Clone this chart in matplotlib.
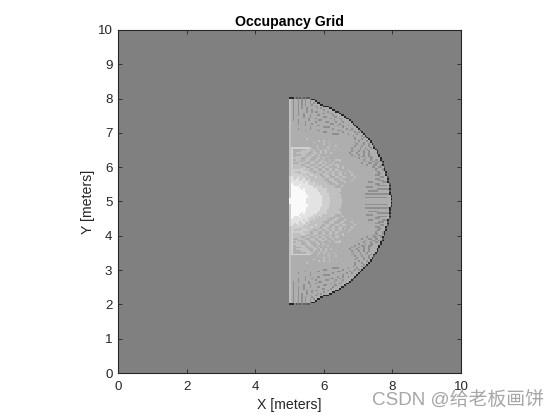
import numpy as np
import matplotlib
matplotlib.use("Agg")
import matplotlib.pyplot as plt

# grey level of each cell type in the occupancy map
levels = {'.': 0.5, '#': 0.15, 'g': 0.36, 'd': 0.56, 'a': 0.68,
          'b': 0.75, 'c': 0.81, 'e': 0.89, 'f': 0.98}

# upper half of the scanned area, top row (y=8) first, 20 cells per meter
edge_cols = [13, 15, 16, 18, 20, 23, 25, 27, 29, 30, 32, 33, 35, 36, 37, 38, 39, 40, 41, 42, 43,
             44, 45, 46, 47, 47, 48, 49, 49, 50, 51, 51, 52, 52, 53, 53, 54, 54, 54, 55, 55,
             55, 56, 56, 56, 57, 57, 57, 57, 58, 58, 58, 58, 58, 58, 58, 59, 59, 59, 59, 59]

rows = [
    "###.g.g.g.gg.g",
    "badaadadadaad",
    "badaadadadaadaa",
    "badaadadadaadad",
    "badaadadadaaadaaaad",
    "badaadadaaaadaadaaaa",
    "badaadadaadaaaaadada",
    "badaadaaaadaadaaaaaada",
    "badaadaaaadaadaddaaaaada",
    "badaadaadaaaaaaaaaaddaaada",
    "badaadaadaaadaaaddaaaaaaada",
    "badaaaaadaaadaaaaaaaddaaaadd",
    "badaaaaaaaadaaadaaaaaaaadaaaad",
    "badaadaaaaadaaaaaddaaaaaaadaaad",
    "baaaadaaadaaaaadaaaaaddaaaadaaad",
    "baaaadaaadaaadaaaaaaaaaaddaaadaaa",
    "baaaaaaaadaaaaaaddaaaaaaaaaadaadaad",
    "baaaaaaaaaaadaaaaaaaddddaaaaaaadaaaa",
    "baaaadaaaaaadaaaaaaaaaaaadaaaaaaadaad",
    "baaaaaaaadaaaaaaddaaaaaaaaaaddaaaaadad",
    "baaaaaaaaaaaaaaaaaaaddaaaaaaaaadaaaaaadad",
    "baaaaaaaaaaaaaaaaaaaaaaaaddddaaaaadaaaadaa",
    "baaaaaaaaaaaaaaaaaaaaaaaaaaaaaaaaaaaadaaaada",
    "baaaaaaaaaaaaaaaaaaaaaaaaaaaaaaaaaaaaadaaaada",
    "baaaaaaaaabaaaaaaaaaaaaaaaaaaaaaaaaaaadaaada",
    "baaaaaaaaaaaaaaaabaabaabaaaaaaaaaaaaaaaadaaaad",
    "baaaaaaaaaaaaabaaaaaaaaaaaaaaaaaaaaaaadaaaadaa",
    "baaaaaaaaaaaaaaaaaaabaabaaaaaaaaaaaaaaadaaadaadaa",
    "baaaaaaaaaaaaaaabaaaaaabaaabaaaaaaaaaadaaadaaada",
    "bcccccccccccbaaabaaaaabaaaaaaaaaaaaadaaaadaadaad",
    "bcaaaaaaaabbbbaaabaabaabaabaaaaaaaaaadaaadaaada",
    "bcaaaaabbbbbaabaaabaabaaaaaaaaaaaaaadaaadaadaad",
    "bcaabbbbbbbaaabbaabaabaabaaaaaaaaaadaaadaaadaad",
    "bcaaaaabbbaaabbaabaaaaaaaaaaaaaaaaaadaaadaadaad",
    "bcaabbbbbaabbbaabaabaabaaaaaaaaaaaaaaadaaaddaadd",
    "bcbbbbbaaabbbaaabbaabaaaaaaaaaaaaaaaaaaadaaadaaddaa",
    "bcaabbbaabbbaaabbaabaaabaaabbbaaaaaaaaaaaaadaaadaadd",
    "bcbbbaaabbbaabbaaabbbaabaabaabaaaaaaaaaaaaaadaaaddaadd",
    "bcaaabbbbaaabbbaabbaabaaabaaaaaaaaaaaaaaaadaaaddaadd",
    "bcbbbbbaabbbaaabbaabbaabbaabbaaaaaaaaaaaaaaaadaaaddaadd",
    "bcbbbbbbbbaabbbaabbaabbaaaaabaabaaaaaaaaaaaaaaaaddaaddaadd",
    "bcbbbbbccbbbaabbbaabbaabbaabaaabaaaaaaaaaaaaaaaaaaddaaddaad",
    "bcccccccbbbbaabbbaabbaabbaabbaaaaabaaaaaaaaaaaaaaadaaaddaadd",
    "bccbbbbccccbbbaabbbaabbaabbaabbaaaabaaaaaaaaaaaaaaaddaaaddaad",
    "bccccbbbcbbcbbbbbaabbbaabbaabbaabaaabaaaaaaaaaaaaaaaddaaadda",
    "bcccccccbcbbccbbbbaabbbaabbaabbaaaaabaaaaaaaaaaaaadddaaaadda",
    "cecccecccbcbbbbcbbbaabbbaaabbaabbaaaaabaaaaaaaaaaaaaaddaaadd",
    "ceeceeccecbcbbbbbbbbbaabbbaaabbaaaaaabaaaaaaaaaaaadddaaaadd",
    "ceeeeeceecccbbbbbbbbaaabbbaaaabbaaaabaaaaaaaaaaaaaaadddaaad",
    "ceeeeeeeceeccbcbbbbbbbaaabbbaaaabaaaaaaaaaaaaadddaaaaaddddd",
    "cfeeeeeeeeeccccbcbbbbbbaaaabbaaaaaaaaaaaaaaaaaaaaadddaaaaa",
    "cffeeefeeeeeeccccbcbbbbbbbaaaabbaaaaaaaaaaaaaaaaaaadddddd",
    "cfffffeeeeeeeecccccbbbbbbbbaaabaaaaaaaaaaaaaaddddaaaaaaaaa",
    "cffffffefeeeeeeeccccccbbbbbbbbaaaaaaaaaaaaaaaaaaaaadddddddd",
    "cffffffffeeeeeeeecccccbbbbbbbbaaaaaaaaaaaaaaaaddddddaaaaa",
    "cfffffffffeeeeeeeeccccbbbbbbbaaaaaaaaaaaaaaaaaaaaaaaaaaaaa",
    "cfffffffffeeeeeeeecccccbbbbbbbaaaaaaaaaaaaaadddddddddddddd",
    "cffffffffffeeeeeeeeccccbbbbbbbaaaaaaaaaaaaaaaaaaaaaaaaaaaa",
    "cffffffffffeeeeeeeecccccbbbbbbaaaaaaaaaaaaaaddddddddddddd",
    "ffffffffffeeeeeeeeecccccbbbbbbbaaaaaaaaaaaaaaaaaaaaaaaaaaa",
    "ffffffffffeeeeeeeeecccccbbbbbbbaaaaaaaaaaaaaaaaaaaaaaaaaaa",
]

grid = np.full((200, 200), 0.5)
n_half = len(rows) - 1
prev_edge = edge_cols[0]
for i, (row, edge) in enumerate(zip(rows, edge_cols)):
    # base grey up to the arc, then the occupied cells bridging to the row above
    dark = '#' * max(1, edge - prev_edge)
    if i == 0:
        row = row[:edge]
    else:
        row = row[:prev_edge].ljust(prev_edge, 'a') + dark
        if edge == prev_edge and i % 2 == 0:
            row = row[:-1] + 'g'
    prev_edge = edge
    vals = [levels[ch] for ch in row]
    dy = n_half - i
    grid[100 + dy, 100:100 + len(vals)] = vals
    grid[100 - dy, 100:100 + len(vals)] = vals

plt.rcParams['font.family'] = ['Liberation Sans', 'DejaVu Sans']

fig = plt.figure(figsize=(5.6, 4.2), dpi=100)
ax = fig.add_axes([118 / 560, 1 - 373 / 420, 343 / 560, 343 / 420])
ax.set_facecolor('#808080')
ax.imshow(grid, cmap='gray', vmin=0, vmax=1, origin='lower', extent=(-0.025, 9.975, -0.025, 9.975),
          interpolation='nearest', aspect='equal')

ax.set_xlim(0, 10)
ax.set_ylim(0, 10)
ax.set_xticks(range(0, 11, 2))
ax.set_yticks(range(0, 11))
ax.tick_params(direction='in', top=True, right=True, length=3, width=0.6,
               labelsize=9.6, colors='#262626')
ax.tick_params(axis='x', pad=6)
ax.tick_params(axis='y', pad=4)
for s in ax.spines.values():
    s.set_linewidth(0.8)
    s.set_color('#262626')

ax.set_title("Occupancy Grid", fontsize=10.2, fontweight='bold', color='black', pad=3)
ax.set_xlabel("X [meters]", fontsize=10.2, color='#262626', labelpad=3)
ax.set_ylabel("Y [meters]", fontsize=10.2, color='#262626', labelpad=2)

# watermark
fig.text(372 / 560, 1 - 401 / 420, "CSDN @给老板画饼", fontsize=13.6, color='#a6a6a6', va='center',
         family=['Liberation Sans', 'Noto Sans CJK SC'])

fig.savefig("out.png", dpi=100)
